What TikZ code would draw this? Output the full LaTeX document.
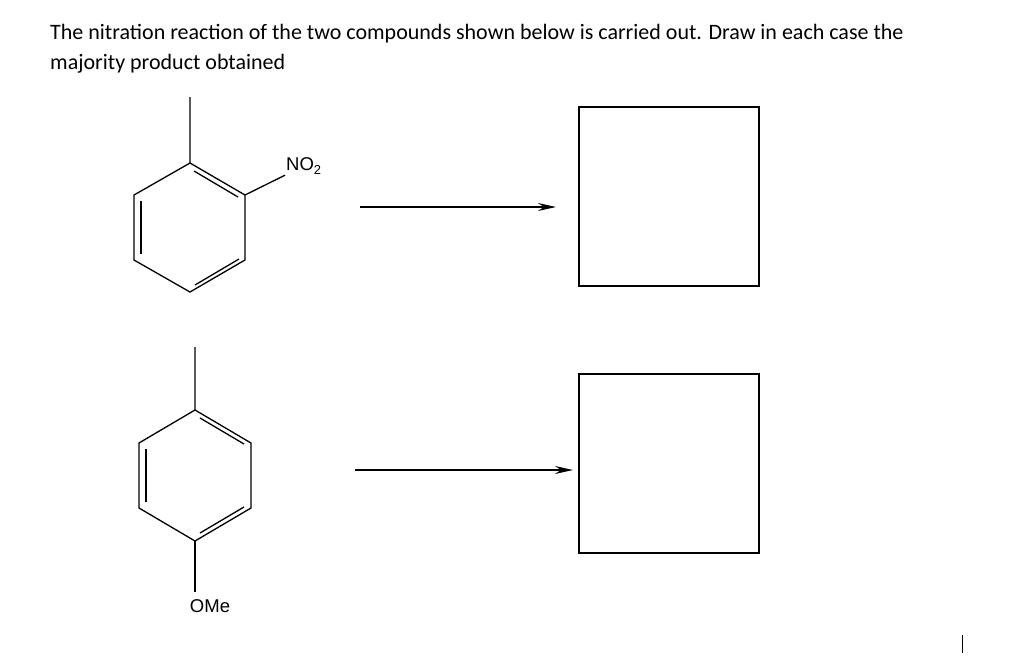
\documentclass[tikz,border=0pt]{standalone}
\usepackage{fontspec}
\setmainfont{Carlito}
\newfontfamily\arial{Liberation Sans}
\usetikzlibrary{arrows.meta}
\begin{document}
\begin{tikzpicture}[x=1pt,y=-1pt,
  bond/.style={line width=1.3pt},
  rxn/.style={line width=1.3pt,-{Stealth[length=18pt,width=8pt]}},
  answer/.style={draw,line width=1.3pt},
  chem/.style={font=\arial\fontsize{18.5}{22}\selectfont,inner sep=1pt}]
\useasboundingbox (0,0) rectangle (1024,661);
\node[anchor=base west,inner sep=0,font=\fontsize{22}{26}\selectfont] (l1) at (50,40) {The nitration reaction of the two compounds shown below is carried out. Draw in each case the};
\node[anchor=base west,inner sep=0,font=\fontsize{22}{26}\selectfont] (l2) at (50,69) {majority product obtained};
% ring 1
\foreach \n/\x/\y in {a1/190/163,a2/245/195,a3/245/260,a4/190/292,a5/134/260,a6/134/195}
  \coordinate (\n) at (\x,\y);
\coordinate (m1) at (190,97);
\draw[bond] (a1)--(a2)--(a3)--(a4)--(a5)--(a6)--cycle (a1)--(m1);
\draw[bond] (194,171) -- (238,197);
\draw[bond] (141,201) -- (141,254);
\draw[bond] (195,285) -- (239,259);
\node[chem,anchor=west] (no2) at (285,166) {NO\textsubscript{2}};
\draw[bond] (a2) -- (no2.south west);
% ring 2
\foreach \n/\x/\y in {b1/195/410,b2/251/443,b3/251/508,b4/195/541,b5/139/508,b6/139/443}
  \coordinate (\n) at (\x,\y);
\coordinate (m2) at (195,347);
\coordinate (o2) at (195,592);
\draw[bond] (b1)--(b2)--(b3)--(b4)--(b5)--(b6)--cycle (b1)--(m2);
\draw[bond] (200,418) -- (244,444);
\draw[bond] (146,449) -- (146,502);
\draw[bond] (200,533) -- (244,507);
\node[chem] (ome) at (210,606) {OMe};
\draw[bond] (b4) -- (o2);
% arrows and boxes
\coordinate (s1) at (360,207); \coordinate (e1) at (556,207);
\coordinate (s2) at (355,470); \coordinate (e2) at (573,470);
\draw[rxn] (s1) -- (e1);
\draw[rxn] (s2) -- (e2);
\node[answer,minimum width=180pt,minimum height=179pt] (box1) at (669,196.5) {};
\node[answer,minimum width=180pt,minimum height=179pt] (box2) at (669,463.5) {};
\coordinate (c1) at (962,635); \coordinate (c2) at (962,653);
\draw[line width=0.8pt] (c1) -- (c2);
\end{tikzpicture}
\end{document}
